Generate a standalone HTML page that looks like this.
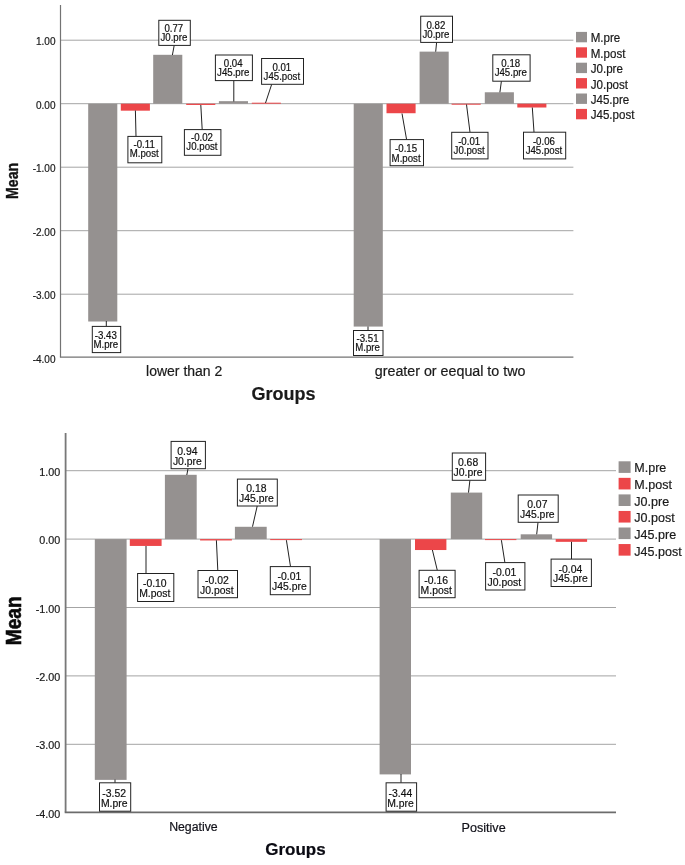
<!DOCTYPE html>
<html><head><meta charset="utf-8"><title>Charts</title>
<style>
html,body{margin:0;padding:0;background:#fff;}
svg{display:block;font-family:"Liberation Sans",Arial,sans-serif;}
</style></head><body>
<svg width="685" height="865" viewBox="0 0 685 865">
<rect width="685" height="865" fill="#ffffff"/>
<line x1="60.50" y1="40.20" x2="573.40" y2="40.20" stroke="#a4a4a4" stroke-width="1"/>
<line x1="60.50" y1="103.70" x2="573.40" y2="103.70" stroke="#a4a4a4" stroke-width="1"/>
<line x1="60.50" y1="167.20" x2="573.40" y2="167.20" stroke="#a4a4a4" stroke-width="1"/>
<line x1="60.50" y1="230.70" x2="573.40" y2="230.70" stroke="#a4a4a4" stroke-width="1"/>
<line x1="60.50" y1="294.20" x2="573.40" y2="294.20" stroke="#a4a4a4" stroke-width="1"/>
<rect x="88.20" y="103.70" width="29.10" height="217.81" fill="#959190"/>
<rect x="120.80" y="103.70" width="29.10" height="6.98" fill="#ec4649"/>
<rect x="153.20" y="54.80" width="29.10" height="48.90" fill="#959190"/>
<rect x="186.20" y="103.70" width="29.10" height="1.27" fill="#ec4649"/>
<rect x="218.90" y="101.16" width="29.10" height="2.54" fill="#959190"/>
<rect x="251.80" y="102.70" width="29.10" height="1.00" fill="#ec4649"/>
<rect x="353.70" y="103.70" width="29.10" height="222.88" fill="#959190"/>
<rect x="386.50" y="103.70" width="29.10" height="9.53" fill="#ec4649"/>
<rect x="419.60" y="51.63" width="29.10" height="52.07" fill="#959190"/>
<rect x="451.60" y="103.70" width="29.10" height="1.00" fill="#ec4649"/>
<rect x="484.80" y="92.27" width="29.10" height="11.43" fill="#959190"/>
<rect x="517.30" y="103.70" width="29.10" height="3.81" fill="#ec4649"/>
<line x1="60.50" y1="5.00" x2="60.50" y2="357.20" stroke="#737373" stroke-width="1.2"/>
<line x1="59.90" y1="357.20" x2="573.40" y2="357.20" stroke="#737373" stroke-width="1.2"/>
<text transform="translate(55.50,45.00) scale(1.0,1)" font-size="10" text-anchor="end" font-weight="normal" fill="#1a1a1a" stroke="#1a1a1a" stroke-width="0.2">1.00</text>
<text transform="translate(55.50,108.50) scale(1.0,1)" font-size="10" text-anchor="end" font-weight="normal" fill="#1a1a1a" stroke="#1a1a1a" stroke-width="0.2">0.00</text>
<text transform="translate(55.50,172.00) scale(1.0,1)" font-size="10" text-anchor="end" font-weight="normal" fill="#1a1a1a" stroke="#1a1a1a" stroke-width="0.2">-1.00</text>
<text transform="translate(55.50,235.50) scale(1.0,1)" font-size="10" text-anchor="end" font-weight="normal" fill="#1a1a1a" stroke="#1a1a1a" stroke-width="0.2">-2.00</text>
<text transform="translate(55.50,299.00) scale(1.0,1)" font-size="10" text-anchor="end" font-weight="normal" fill="#1a1a1a" stroke="#1a1a1a" stroke-width="0.2">-3.00</text>
<text transform="translate(55.50,362.50) scale(1.0,1)" font-size="10" text-anchor="end" font-weight="normal" fill="#1a1a1a" stroke="#1a1a1a" stroke-width="0.2">-4.00</text>
<line x1="174.20" y1="45.40" x2="172.40" y2="55.00" stroke="#222" stroke-width="1"/>
<rect x="158.80" y="20.30" width="31.50" height="25.10" fill="#fff" stroke="#222" stroke-width="1"/>
<text transform="translate(173.85,32.05) scale(0.93,1)" font-size="10.4" text-anchor="middle" font-weight="normal" fill="#111" stroke="#111" stroke-width="0.2">0.77</text>
<text transform="translate(173.85,41.25) scale(0.93,1)" font-size="10.4" text-anchor="middle" font-weight="normal" fill="#111" stroke="#111" stroke-width="0.2">J0.pre</text>
<line x1="233.80" y1="80.60" x2="233.80" y2="101.50" stroke="#222" stroke-width="1"/>
<rect x="215.40" y="55.00" width="37.00" height="25.60" fill="#fff" stroke="#222" stroke-width="1"/>
<text transform="translate(233.20,67.00) scale(0.93,1)" font-size="10.4" text-anchor="middle" font-weight="normal" fill="#111" stroke="#111" stroke-width="0.2">0.04</text>
<text transform="translate(233.20,76.20) scale(0.93,1)" font-size="10.4" text-anchor="middle" font-weight="normal" fill="#111" stroke="#111" stroke-width="0.2">J45.pre</text>
<line x1="271.70" y1="84.30" x2="265.50" y2="103.00" stroke="#222" stroke-width="1"/>
<rect x="261.60" y="58.50" width="41.90" height="25.80" fill="#fff" stroke="#222" stroke-width="1"/>
<text transform="translate(281.85,70.60) scale(0.93,1)" font-size="10.4" text-anchor="middle" font-weight="normal" fill="#111" stroke="#111" stroke-width="0.2">0.01</text>
<text transform="translate(281.85,79.80) scale(0.93,1)" font-size="10.4" text-anchor="middle" font-weight="normal" fill="#111" stroke="#111" stroke-width="0.2">J45.post</text>
<line x1="135.40" y1="110.50" x2="136.00" y2="136.40" stroke="#222" stroke-width="1"/>
<rect x="127.90" y="136.40" width="33.90" height="26.40" fill="#fff" stroke="#222" stroke-width="1"/>
<text transform="translate(144.15,148.00) scale(0.93,1)" font-size="10.4" text-anchor="middle" font-weight="normal" fill="#111" stroke="#111" stroke-width="0.2">-0.11</text>
<text transform="translate(144.15,157.20) scale(0.93,1)" font-size="10.4" text-anchor="middle" font-weight="normal" fill="#111" stroke="#111" stroke-width="0.2">M.post</text>
<line x1="200.80" y1="105.00" x2="202.20" y2="129.60" stroke="#222" stroke-width="1"/>
<rect x="184.40" y="129.60" width="36.50" height="25.70" fill="#fff" stroke="#222" stroke-width="1"/>
<text transform="translate(201.95,141.15) scale(0.93,1)" font-size="10.4" text-anchor="middle" font-weight="normal" fill="#111" stroke="#111" stroke-width="0.2">-0.02</text>
<text transform="translate(201.95,150.35) scale(0.93,1)" font-size="10.4" text-anchor="middle" font-weight="normal" fill="#111" stroke="#111" stroke-width="0.2">J0.post</text>
<line x1="106.30" y1="321.00" x2="106.30" y2="326.40" stroke="#222" stroke-width="1"/>
<rect x="92.30" y="326.40" width="28.40" height="26.20" fill="#fff" stroke="#222" stroke-width="1"/>
<text transform="translate(105.80,338.70) scale(0.93,1)" font-size="10.4" text-anchor="middle" font-weight="normal" fill="#111" stroke="#111" stroke-width="0.2">-3.43</text>
<text transform="translate(105.80,347.90) scale(0.93,1)" font-size="10.4" text-anchor="middle" font-weight="normal" fill="#111" stroke="#111" stroke-width="0.2">M.pre</text>
<line x1="436.60" y1="42.40" x2="435.70" y2="51.70" stroke="#222" stroke-width="1"/>
<rect x="420.70" y="16.20" width="31.80" height="26.20" fill="#fff" stroke="#222" stroke-width="1"/>
<text transform="translate(435.90,28.50) scale(0.93,1)" font-size="10.4" text-anchor="middle" font-weight="normal" fill="#111" stroke="#111" stroke-width="0.2">0.82</text>
<text transform="translate(435.90,37.70) scale(0.93,1)" font-size="10.4" text-anchor="middle" font-weight="normal" fill="#111" stroke="#111" stroke-width="0.2">J0.pre</text>
<line x1="501.40" y1="81.20" x2="499.90" y2="92.30" stroke="#222" stroke-width="1"/>
<rect x="492.80" y="54.80" width="37.30" height="26.40" fill="#fff" stroke="#222" stroke-width="1"/>
<text transform="translate(510.75,67.20) scale(0.93,1)" font-size="10.4" text-anchor="middle" font-weight="normal" fill="#111" stroke="#111" stroke-width="0.2">0.18</text>
<text transform="translate(510.75,76.40) scale(0.93,1)" font-size="10.4" text-anchor="middle" font-weight="normal" fill="#111" stroke="#111" stroke-width="0.2">J45.pre</text>
<line x1="402.00" y1="113.50" x2="406.60" y2="139.60" stroke="#222" stroke-width="1"/>
<rect x="390.10" y="139.60" width="33.40" height="26.10" fill="#fff" stroke="#222" stroke-width="1"/>
<text transform="translate(406.10,152.35) scale(0.93,1)" font-size="10.4" text-anchor="middle" font-weight="normal" fill="#111" stroke="#111" stroke-width="0.2">-0.15</text>
<text transform="translate(406.10,161.55) scale(0.93,1)" font-size="10.4" text-anchor="middle" font-weight="normal" fill="#111" stroke="#111" stroke-width="0.2">M.post</text>
<line x1="466.50" y1="104.50" x2="470.00" y2="132.30" stroke="#222" stroke-width="1"/>
<rect x="451.70" y="132.30" width="36.30" height="26.60" fill="#fff" stroke="#222" stroke-width="1"/>
<text transform="translate(469.15,144.80) scale(0.93,1)" font-size="10.4" text-anchor="middle" font-weight="normal" fill="#111" stroke="#111" stroke-width="0.2">-0.01</text>
<text transform="translate(469.15,154.00) scale(0.93,1)" font-size="10.4" text-anchor="middle" font-weight="normal" fill="#111" stroke="#111" stroke-width="0.2">J0.post</text>
<line x1="532.30" y1="107.50" x2="534.00" y2="132.20" stroke="#222" stroke-width="1"/>
<rect x="523.50" y="132.20" width="42.20" height="26.70" fill="#fff" stroke="#222" stroke-width="1"/>
<text transform="translate(543.90,144.75) scale(0.93,1)" font-size="10.4" text-anchor="middle" font-weight="normal" fill="#111" stroke="#111" stroke-width="0.2">-0.06</text>
<text transform="translate(543.90,153.95) scale(0.93,1)" font-size="10.4" text-anchor="middle" font-weight="normal" fill="#111" stroke="#111" stroke-width="0.2">J45.post</text>
<line x1="368.00" y1="326.50" x2="368.00" y2="330.50" stroke="#222" stroke-width="1"/>
<rect x="353.50" y="330.50" width="29.50" height="25.00" fill="#fff" stroke="#222" stroke-width="1"/>
<text transform="translate(367.55,342.20) scale(0.93,1)" font-size="10.4" text-anchor="middle" font-weight="normal" fill="#111" stroke="#111" stroke-width="0.2">-3.51</text>
<text transform="translate(367.55,351.40) scale(0.93,1)" font-size="10.4" text-anchor="middle" font-weight="normal" fill="#111" stroke="#111" stroke-width="0.2">M.pre</text>
<rect x="576.00" y="31.90" width="11.00" height="10.40" fill="#959190"/>
<text transform="translate(590.70,42.30) scale(0.965,1)" font-size="12" text-anchor="start" font-weight="normal" fill="#1a1a1a" stroke="#1a1a1a" stroke-width="0.2">M.pre</text>
<rect x="576.00" y="47.30" width="11.00" height="10.40" fill="#ec4649"/>
<text transform="translate(590.70,57.70) scale(0.965,1)" font-size="12" text-anchor="start" font-weight="normal" fill="#1a1a1a" stroke="#1a1a1a" stroke-width="0.2">M.post</text>
<rect x="576.00" y="62.70" width="11.00" height="10.40" fill="#959190"/>
<text transform="translate(590.70,73.10) scale(0.965,1)" font-size="12" text-anchor="start" font-weight="normal" fill="#1a1a1a" stroke="#1a1a1a" stroke-width="0.2">J0.pre</text>
<rect x="576.00" y="78.10" width="11.00" height="10.40" fill="#ec4649"/>
<text transform="translate(590.70,88.50) scale(0.965,1)" font-size="12" text-anchor="start" font-weight="normal" fill="#1a1a1a" stroke="#1a1a1a" stroke-width="0.2">J0.post</text>
<rect x="576.00" y="93.50" width="11.00" height="10.40" fill="#959190"/>
<text transform="translate(590.70,103.90) scale(0.965,1)" font-size="12" text-anchor="start" font-weight="normal" fill="#1a1a1a" stroke="#1a1a1a" stroke-width="0.2">J45.pre</text>
<rect x="576.00" y="108.90" width="11.00" height="10.40" fill="#ec4649"/>
<text transform="translate(590.70,119.30) scale(0.965,1)" font-size="12" text-anchor="start" font-weight="normal" fill="#1a1a1a" stroke="#1a1a1a" stroke-width="0.2">J45.post</text>
<text transform="translate(184.20,376.40) scale(1.0,1)" font-size="14" text-anchor="middle" font-weight="normal" fill="#1a1a1a" stroke="#1a1a1a" stroke-width="0.2">lower than 2</text>
<text transform="translate(450.10,376.40) scale(1.02,1)" font-size="14" text-anchor="middle" font-weight="normal" fill="#1a1a1a" stroke="#1a1a1a" stroke-width="0.2">greater or eequal to two</text>
<text transform="translate(283.50,400.20) scale(1.0,1)" font-size="18" text-anchor="middle" font-weight="bold" fill="#1a1a1a" stroke="#1a1a1a" stroke-width="0.2">Groups</text>
<text transform="translate(18.1,180.9) rotate(-90) scale(0.853,1)" font-size="16.6" font-weight="bold" text-anchor="middle" fill="#111" stroke="#111" stroke-width="0.35">Mean</text>
<line x1="65.60" y1="470.70" x2="616.00" y2="470.70" stroke="#a4a4a4" stroke-width="1"/>
<line x1="65.60" y1="539.10" x2="616.00" y2="539.10" stroke="#a4a4a4" stroke-width="1"/>
<line x1="65.60" y1="607.50" x2="616.00" y2="607.50" stroke="#a4a4a4" stroke-width="1"/>
<line x1="65.60" y1="675.90" x2="616.00" y2="675.90" stroke="#a4a4a4" stroke-width="1"/>
<line x1="65.60" y1="744.30" x2="616.00" y2="744.30" stroke="#a4a4a4" stroke-width="1"/>
<rect x="94.80" y="539.10" width="31.80" height="240.77" fill="#959190"/>
<rect x="129.80" y="539.10" width="31.80" height="6.84" fill="#ec4649"/>
<rect x="164.90" y="474.80" width="31.80" height="64.30" fill="#959190"/>
<rect x="200.10" y="539.10" width="31.80" height="1.37" fill="#ec4649"/>
<rect x="234.90" y="526.79" width="31.80" height="12.31" fill="#959190"/>
<rect x="270.20" y="539.10" width="31.80" height="1.00" fill="#ec4649"/>
<rect x="379.60" y="539.10" width="31.40" height="235.30" fill="#959190"/>
<rect x="415.00" y="539.10" width="31.40" height="10.94" fill="#ec4649"/>
<rect x="450.80" y="492.59" width="31.40" height="46.51" fill="#959190"/>
<rect x="485.00" y="539.10" width="31.40" height="1.00" fill="#ec4649"/>
<rect x="520.70" y="534.31" width="31.40" height="4.79" fill="#959190"/>
<rect x="555.70" y="539.10" width="31.40" height="2.74" fill="#ec4649"/>
<line x1="65.60" y1="433.00" x2="65.60" y2="812.20" stroke="#787878" stroke-width="1.8"/>
<line x1="64.70" y1="812.40" x2="616.00" y2="812.40" stroke="#6c6c6c" stroke-width="1.7"/>
<text transform="translate(60.20,475.80) scale(1.0,1)" font-size="10.75" text-anchor="end" font-weight="normal" fill="#1a1a1a" stroke="#1a1a1a" stroke-width="0.2">1.00</text>
<text transform="translate(60.20,544.20) scale(1.0,1)" font-size="10.75" text-anchor="end" font-weight="normal" fill="#1a1a1a" stroke="#1a1a1a" stroke-width="0.2">0.00</text>
<text transform="translate(60.20,612.60) scale(1.0,1)" font-size="10.75" text-anchor="end" font-weight="normal" fill="#1a1a1a" stroke="#1a1a1a" stroke-width="0.2">-1.00</text>
<text transform="translate(60.20,681.00) scale(1.0,1)" font-size="10.75" text-anchor="end" font-weight="normal" fill="#1a1a1a" stroke="#1a1a1a" stroke-width="0.2">-2.00</text>
<text transform="translate(60.20,749.40) scale(1.0,1)" font-size="10.75" text-anchor="end" font-weight="normal" fill="#1a1a1a" stroke="#1a1a1a" stroke-width="0.2">-3.00</text>
<text transform="translate(60.20,817.80) scale(1.0,1)" font-size="10.75" text-anchor="end" font-weight="normal" fill="#1a1a1a" stroke="#1a1a1a" stroke-width="0.2">-4.00</text>
<line x1="188.00" y1="468.70" x2="186.80" y2="475.00" stroke="#222" stroke-width="1"/>
<rect x="171.10" y="441.40" width="34.30" height="27.30" fill="#fff" stroke="#222" stroke-width="1"/>
<text transform="translate(187.35,454.85) scale(0.93,1)" font-size="11.2" text-anchor="middle" font-weight="normal" fill="#111" stroke="#111" stroke-width="0.2">0.94</text>
<text transform="translate(187.35,464.55) scale(0.93,1)" font-size="11.2" text-anchor="middle" font-weight="normal" fill="#111" stroke="#111" stroke-width="0.2">J0.pre</text>
<line x1="257.20" y1="506.00" x2="252.50" y2="526.70" stroke="#222" stroke-width="1"/>
<rect x="237.40" y="479.10" width="39.90" height="26.90" fill="#fff" stroke="#222" stroke-width="1"/>
<text transform="translate(256.45,492.35) scale(0.93,1)" font-size="11.2" text-anchor="middle" font-weight="normal" fill="#111" stroke="#111" stroke-width="0.2">0.18</text>
<text transform="translate(256.45,502.05) scale(0.93,1)" font-size="11.2" text-anchor="middle" font-weight="normal" fill="#111" stroke="#111" stroke-width="0.2">J45.pre</text>
<line x1="146.00" y1="546.00" x2="146.00" y2="573.50" stroke="#222" stroke-width="1"/>
<rect x="137.60" y="573.50" width="36.20" height="28.00" fill="#fff" stroke="#222" stroke-width="1"/>
<text transform="translate(154.80,587.30) scale(0.93,1)" font-size="11.2" text-anchor="middle" font-weight="normal" fill="#111" stroke="#111" stroke-width="0.2">-0.10</text>
<text transform="translate(154.80,597.00) scale(0.93,1)" font-size="11.2" text-anchor="middle" font-weight="normal" fill="#111" stroke="#111" stroke-width="0.2">M.post</text>
<line x1="216.40" y1="540.30" x2="217.80" y2="570.50" stroke="#222" stroke-width="1"/>
<rect x="198.00" y="570.50" width="39.50" height="27.20" fill="#fff" stroke="#222" stroke-width="1"/>
<text transform="translate(216.85,583.90) scale(0.93,1)" font-size="11.2" text-anchor="middle" font-weight="normal" fill="#111" stroke="#111" stroke-width="0.2">-0.02</text>
<text transform="translate(216.85,593.60) scale(0.93,1)" font-size="11.2" text-anchor="middle" font-weight="normal" fill="#111" stroke="#111" stroke-width="0.2">J0.post</text>
<line x1="286.40" y1="540.20" x2="290.50" y2="566.60" stroke="#222" stroke-width="1"/>
<rect x="270.30" y="566.60" width="39.90" height="28.10" fill="#fff" stroke="#222" stroke-width="1"/>
<text transform="translate(289.35,580.45) scale(0.93,1)" font-size="11.2" text-anchor="middle" font-weight="normal" fill="#111" stroke="#111" stroke-width="0.2">-0.01</text>
<text transform="translate(289.35,590.15) scale(0.93,1)" font-size="11.2" text-anchor="middle" font-weight="normal" fill="#111" stroke="#111" stroke-width="0.2">J45.pre</text>
<line x1="469.90" y1="480.30" x2="468.50" y2="492.60" stroke="#222" stroke-width="1"/>
<rect x="452.30" y="453.00" width="33.30" height="27.30" fill="#fff" stroke="#222" stroke-width="1"/>
<text transform="translate(468.05,466.45) scale(0.93,1)" font-size="11.2" text-anchor="middle" font-weight="normal" fill="#111" stroke="#111" stroke-width="0.2">0.68</text>
<text transform="translate(468.05,476.15) scale(0.93,1)" font-size="11.2" text-anchor="middle" font-weight="normal" fill="#111" stroke="#111" stroke-width="0.2">J0.pre</text>
<line x1="538.00" y1="522.30" x2="536.70" y2="534.30" stroke="#222" stroke-width="1"/>
<rect x="518.20" y="495.00" width="40.00" height="27.30" fill="#fff" stroke="#222" stroke-width="1"/>
<text transform="translate(537.30,508.45) scale(0.93,1)" font-size="11.2" text-anchor="middle" font-weight="normal" fill="#111" stroke="#111" stroke-width="0.2">0.07</text>
<text transform="translate(537.30,518.15) scale(0.93,1)" font-size="11.2" text-anchor="middle" font-weight="normal" fill="#111" stroke="#111" stroke-width="0.2">J45.pre</text>
<line x1="432.40" y1="550.00" x2="437.30" y2="570.30" stroke="#222" stroke-width="1"/>
<rect x="419.10" y="570.30" width="36.00" height="27.40" fill="#fff" stroke="#222" stroke-width="1"/>
<text transform="translate(436.20,583.80) scale(0.93,1)" font-size="11.2" text-anchor="middle" font-weight="normal" fill="#111" stroke="#111" stroke-width="0.2">-0.16</text>
<text transform="translate(436.20,593.50) scale(0.93,1)" font-size="11.2" text-anchor="middle" font-weight="normal" fill="#111" stroke="#111" stroke-width="0.2">M.post</text>
<line x1="501.40" y1="540.20" x2="504.90" y2="562.60" stroke="#222" stroke-width="1"/>
<rect x="485.60" y="562.60" width="39.30" height="27.40" fill="#fff" stroke="#222" stroke-width="1"/>
<text transform="translate(504.35,576.10) scale(0.93,1)" font-size="11.2" text-anchor="middle" font-weight="normal" fill="#111" stroke="#111" stroke-width="0.2">-0.01</text>
<text transform="translate(504.35,585.80) scale(0.93,1)" font-size="11.2" text-anchor="middle" font-weight="normal" fill="#111" stroke="#111" stroke-width="0.2">J0.post</text>
<line x1="571.50" y1="541.80" x2="571.50" y2="559.10" stroke="#222" stroke-width="1"/>
<rect x="551.10" y="559.10" width="40.30" height="27.40" fill="#fff" stroke="#222" stroke-width="1"/>
<text transform="translate(570.35,572.60) scale(0.93,1)" font-size="11.2" text-anchor="middle" font-weight="normal" fill="#111" stroke="#111" stroke-width="0.2">-0.04</text>
<text transform="translate(570.35,582.30) scale(0.93,1)" font-size="11.2" text-anchor="middle" font-weight="normal" fill="#111" stroke="#111" stroke-width="0.2">J45.pre</text>
<line x1="115.00" y1="779.50" x2="115.00" y2="782.80" stroke="#222" stroke-width="1"/>
<rect x="99.50" y="782.80" width="31.20" height="28.40" fill="#fff" stroke="#222" stroke-width="1"/>
<text transform="translate(114.20,796.80) scale(0.93,1)" font-size="11.2" text-anchor="middle" font-weight="normal" fill="#111" stroke="#111" stroke-width="0.2">-3.52</text>
<text transform="translate(114.20,806.50) scale(0.93,1)" font-size="11.2" text-anchor="middle" font-weight="normal" fill="#111" stroke="#111" stroke-width="0.2">M.pre</text>
<line x1="401.00" y1="774.00" x2="401.00" y2="782.80" stroke="#222" stroke-width="1"/>
<rect x="386.10" y="782.80" width="30.50" height="28.40" fill="#fff" stroke="#222" stroke-width="1"/>
<text transform="translate(400.45,796.80) scale(0.93,1)" font-size="11.2" text-anchor="middle" font-weight="normal" fill="#111" stroke="#111" stroke-width="0.2">-3.44</text>
<text transform="translate(400.45,806.50) scale(0.93,1)" font-size="11.2" text-anchor="middle" font-weight="normal" fill="#111" stroke="#111" stroke-width="0.2">M.pre</text>
<rect x="618.60" y="461.30" width="12.00" height="11.60" fill="#959190"/>
<text transform="translate(634.30,471.90) scale(0.965,1)" font-size="13" text-anchor="start" font-weight="normal" fill="#1a1a1a" stroke="#1a1a1a" stroke-width="0.2">M.pre</text>
<rect x="618.60" y="477.85" width="12.00" height="11.60" fill="#ec4649"/>
<text transform="translate(634.30,488.70) scale(0.965,1)" font-size="13" text-anchor="start" font-weight="normal" fill="#1a1a1a" stroke="#1a1a1a" stroke-width="0.2">M.post</text>
<rect x="618.60" y="494.40" width="12.00" height="11.60" fill="#959190"/>
<text transform="translate(634.30,505.50) scale(0.965,1)" font-size="13" text-anchor="start" font-weight="normal" fill="#1a1a1a" stroke="#1a1a1a" stroke-width="0.2">J0.pre</text>
<rect x="618.60" y="510.95" width="12.00" height="11.60" fill="#ec4649"/>
<text transform="translate(634.30,522.30) scale(0.965,1)" font-size="13" text-anchor="start" font-weight="normal" fill="#1a1a1a" stroke="#1a1a1a" stroke-width="0.2">J0.post</text>
<rect x="618.60" y="527.50" width="12.00" height="11.60" fill="#959190"/>
<text transform="translate(634.30,539.10) scale(0.965,1)" font-size="13" text-anchor="start" font-weight="normal" fill="#1a1a1a" stroke="#1a1a1a" stroke-width="0.2">J45.pre</text>
<rect x="618.60" y="544.05" width="12.00" height="11.60" fill="#ec4649"/>
<text transform="translate(634.30,555.90) scale(0.965,1)" font-size="13" text-anchor="start" font-weight="normal" fill="#1a1a1a" stroke="#1a1a1a" stroke-width="0.2">J45.post</text>
<text transform="translate(193.40,831.40) scale(1.0,1)" font-size="12.3" text-anchor="middle" font-weight="normal" fill="#12121a" stroke="#12121a" stroke-width="0.2">Negative</text>
<text transform="translate(483.60,831.50) scale(1.0,1)" font-size="12.6" text-anchor="middle" font-weight="normal" fill="#12121a" stroke="#12121a" stroke-width="0.2">Positive</text>
<text transform="translate(295.40,854.70) scale(1.0,1)" font-size="17" text-anchor="middle" font-weight="bold" fill="#0a0a12" stroke="#0a0a12" stroke-width="0.2">Groups</text>
<text transform="translate(20.9,620.8) rotate(-90) scale(0.895,1)" font-size="21.4" font-weight="bold" text-anchor="middle" fill="#0a0a0a" stroke="#0a0a0a" stroke-width="0.6">Mean</text>
</svg>
</body></html>
